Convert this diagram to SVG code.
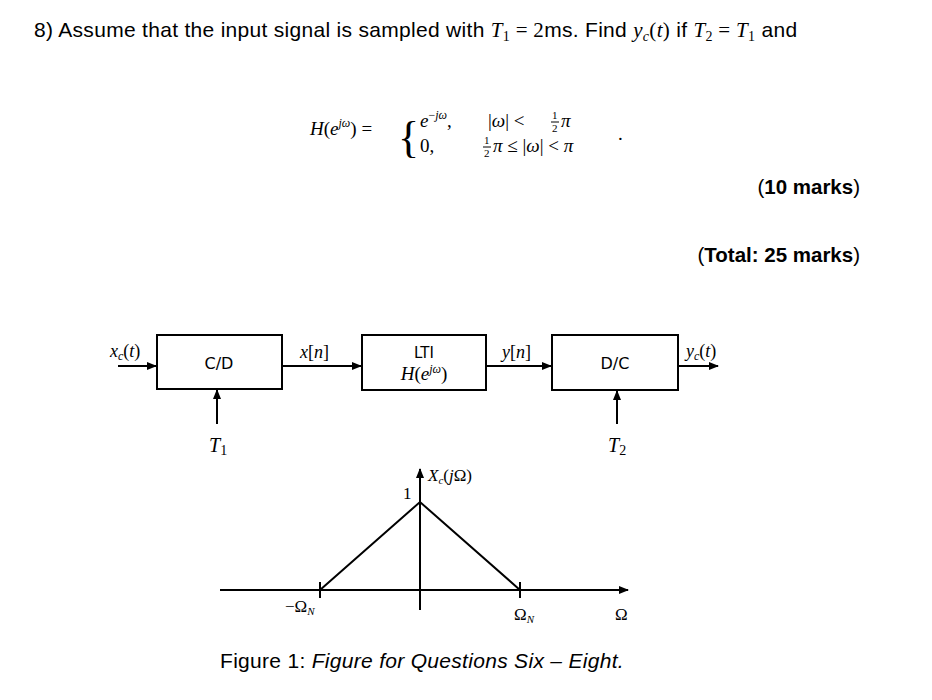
<svg xmlns="http://www.w3.org/2000/svg" width="932" height="700" viewBox="0 0 932 700">
<style>
.s{font-family:"Liberation Sans",Arial,sans-serif;fill:#000}
.m{font-family:"Liberation Serif","Times New Roman",serif;fill:#000}
.c{font-family:"DejaVu Sans",sans-serif;fill:#000}
.b{fill:#fff;stroke:#000;stroke-width:2}
.l{stroke:#000;stroke-width:2;fill:none}
</style>
<defs><marker id="a" markerWidth="10" markerHeight="8" refX="9" refY="4" orient="auto" markerUnits="userSpaceOnUse"><path d="M0,0L10,4L0,8z" fill="#000"/></marker></defs>
<rect width="932" height="700" fill="#fff"/>
<text class="s" x="34" y="37" font-size="21" letter-spacing="0.3">8) Assume that the input signal is sampled with <tspan class="m" font-style="italic">T</tspan><tspan class="m" font-size="14" dy="4">1</tspan><tspan class="m" dy="-4"> = 2</tspan>ms. Find <tspan class="m" font-style="italic">y</tspan><tspan class="m" font-style="italic" font-size="14" dy="4">c</tspan><tspan class="m" dy="-4">(<tspan font-style="italic">t</tspan>)</tspan> if <tspan class="m" font-style="italic">T</tspan><tspan class="m" font-size="14" dy="4">2</tspan><tspan class="m" dy="-4"> = </tspan><tspan class="m" font-style="italic">T</tspan><tspan class="m" font-size="14" dy="4">1</tspan><tspan dy="-4"> and</tspan></text>
<g id="eq" class="m" font-size="19">
<text x="310" y="135"><tspan font-style="italic">H</tspan>(<tspan font-style="italic">e</tspan><tspan font-size="12" font-style="italic" dy="-8">jω</tspan><tspan dy="8">) =</tspan></text>
<text x="398" y="152" font-size="44">{</text>
<text x="420" y="127"><tspan font-style="italic">e</tspan><tspan font-size="12" dy="-8">−<tspan font-style="italic">jω</tspan></tspan><tspan dy="8">,</tspan></text>
<text x="488" y="127">|<tspan font-style="italic">ω</tspan>| &lt;</text>
<text x="552" y="119" font-size="11">1</text><line x1="551" y1="122" x2="559" y2="122" stroke="#000"/><text x="552" y="132" font-size="11">2</text>
<text x="561" y="127" font-style="italic">π</text>
<text x="420" y="152">0,</text>
<text x="484" y="144" font-size="11">1</text><line x1="483" y1="147" x2="491" y2="147" stroke="#000"/><text x="484" y="157" font-size="11">2</text>
<text x="493" y="152"><tspan font-style="italic">π</tspan> ≤ |<tspan font-style="italic">ω</tspan>| &lt; <tspan font-style="italic">π</tspan></text>
<text x="618" y="140">.</text>
</g>
<text class="s" x="860" y="194" font-size="20.5" text-anchor="end">(<tspan font-weight="bold">10 marks</tspan>)</text>
<text class="s" x="860" y="262" font-size="20.5" text-anchor="end">(<tspan font-weight="bold">Total: 25 marks</tspan>)</text>
<g id="cd"><rect class="b" x="157" y="335" width="125" height="54"/><text class="c" x="219" y="369" font-size="16" text-anchor="middle">C/D</text></g>
<g id="lti"><rect class="b" x="362" y="335" width="124" height="55"/><text class="c" x="424" y="358" font-size="15" text-anchor="middle">LTI</text><text class="m" x="424" y="380" font-size="19" text-anchor="middle"><tspan font-style="italic">H</tspan>(<tspan font-style="italic">e</tspan><tspan font-size="12" font-style="italic" dy="-7">jω</tspan><tspan dy="7">)</tspan></text></g>
<g id="dc"><rect class="b" x="552" y="335" width="126" height="55"/><text class="c" x="615" y="369" font-size="16" text-anchor="middle">D/C</text></g>
<g id="connectors" class="l">
<line x1="118" y1="366" x2="156" y2="366" marker-end="url(#a)"/>
<line x1="282" y1="366" x2="361" y2="366" marker-end="url(#a)"/>
<line x1="486" y1="366" x2="551" y2="366" marker-end="url(#a)"/>
<line x1="678" y1="366" x2="718" y2="366" marker-end="url(#a)"/>
<line x1="217" y1="424" x2="217" y2="390" marker-end="url(#a)"/>
<line x1="617" y1="424" x2="617" y2="391" marker-end="url(#a)"/>
</g>
<g class="m" font-size="18" font-style="italic">
<text x="110" y="357">x<tspan font-size="12" dy="3">c</tspan><tspan font-style="normal" dy="-3">(</tspan>t<tspan font-style="normal">)</tspan></text>
<text x="300" y="358">x<tspan font-style="normal">[</tspan>n<tspan font-style="normal">]</tspan></text>
<text x="502" y="358">y<tspan font-style="normal">[</tspan>n<tspan font-style="normal">]</tspan></text>
<text x="686" y="357">y<tspan font-size="12" dy="3">c</tspan><tspan font-style="normal" dy="-3">(</tspan>t<tspan font-style="normal">)</tspan></text>
<text x="209" y="452" font-size="20">T<tspan font-style="normal" font-size="14" dy="3">1</tspan></text>
<text x="608" y="452" font-size="20">T<tspan font-style="normal" font-size="14" dy="3">2</tspan></text>
</g>
<g id="plot">
<line class="l" x1="220" y1="590" x2="628" y2="590" marker-end="url(#a)"/>
<line class="l" x1="420" y1="610" x2="420" y2="469" marker-end="url(#a)"/>
<polyline class="l" points="320,590 420,502 520,590"/>
<line class="l" x1="320" y1="582" x2="320" y2="598"/>
<line class="l" x1="520" y1="582" x2="520" y2="598"/>
<g class="m" font-size="17">
<text x="428" y="481" font-style="italic">X<tspan font-size="11" dy="3">c</tspan><tspan font-style="normal" dy="-3">(</tspan>j<tspan font-style="normal">Ω)</tspan></text>
<text x="403" y="499">1</text>
<text x="285" y="612">−Ω<tspan font-size="11" font-style="italic" dy="3">N</tspan></text>
<text x="514" y="620">Ω<tspan font-size="11" font-style="italic" dy="3">N</tspan></text>
<text x="615" y="620">Ω</text>
</g>
</g>
<text class="s" x="220" y="668" font-size="21" letter-spacing="0.3">Figure 1: <tspan font-style="italic">Figure for Questions Six – Eight.</tspan></text>
</svg>
